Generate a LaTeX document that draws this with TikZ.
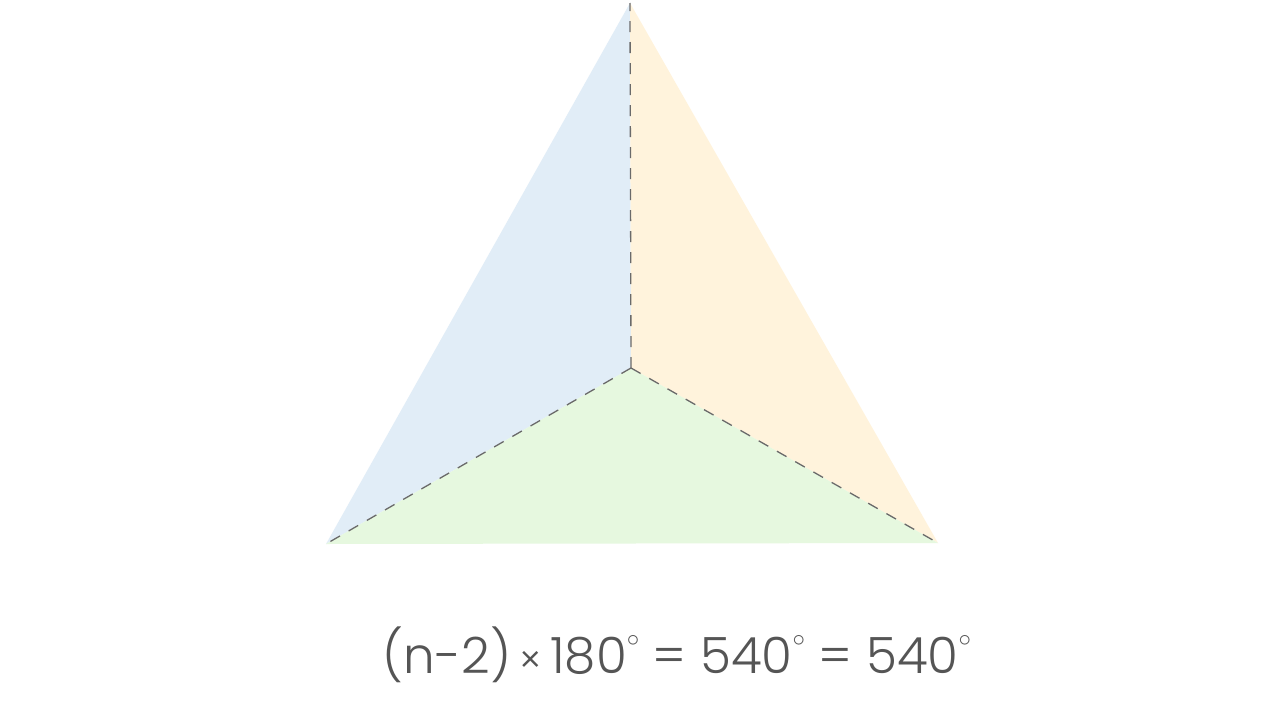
\documentclass[tikz,border=0pt]{standalone}
\usepackage{fontspec}
\setmainfont{Poppins}[UprightFont=* Light]
\definecolor{partblue}{HTML}{E1EDF7}
\definecolor{partyellow}{HTML}{FFF3DC}
\definecolor{partgreen}{HTML}{E6F8DF}
\definecolor{dashgray}{HTML}{6A6A6A}
\definecolor{textgray}{HTML}{555555}
\tikzset{cut/.style={draw=dashgray, line width=1.3pt, dash pattern=on 11pt off 10pt}}
\newcommand{\dg}{\raisebox{27pt}{\fontsize{58}{58}\selectfont$\circ$}}
\begin{document}
\begin{tikzpicture}[x=1pt,y=-1pt]
\useasboundingbox[fill=white] (0,0) rectangle (1280,720);
% corners of the triangle and the inner point
\coordinate (top) at (630,3);
\coordinate (left) at (326,544);
\coordinate (right) at (938,543);
\coordinate (mid) at (631,368);
% the three parts
\fill[partblue] (top) -- (mid) -- (left) -- cycle;
\fill[partyellow] (top) -- (right) -- (mid) -- cycle;
\fill[partgreen] (left) -- (mid) -- (right) -- cycle;
\foreach \v in {top,left,right}
\draw[cut] (mid) -- (\v);
\node[text=textgray, font=\fontsize{50}{60}\selectfont, anchor=base] (sum) at (677,673)
{(n-2)\,{\fontsize{38}{40}\selectfont×}\,180\dg{} = 540\dg{} = 540\dg};
\end{tikzpicture}
\end{document}
